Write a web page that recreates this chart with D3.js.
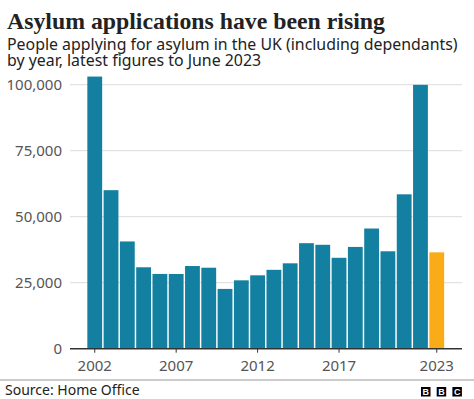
<!DOCTYPE html>
<html>
<head>
<meta charset="utf-8">
<script src="https://cdn.jsdelivr.net/npm/d3@7"></script>
<style>
  html, body { margin: 0; padding: 0; background: #fff; }
  svg { display: block; }
</style>
</head>
<body>
<svg id="chart" width="474" height="399"></svg>
<script>
const years = ["2002","2003","2004","2005","2006","2007","2008","2009","2010","2011","2012",
               "2013","2014","2015","2016","2017","2018","2019","2020","2021","2022","2023"];
const applications = [103081, 60050, 40625, 30840, 28320, 28300, 31315, 30675, 22644, 25898, 27800,
                      29875, 32344, 39968, 39357, 34435, 38550, 45525, 36900, 58480, 99939, 36500];
const highlightYear = "2023";
const yTicks = [0, 25000, 50000, 75000, 100000];
const xTickLabels = ["2002", "2007", "2012", "2017", "2023"];

const title = "Asylum applications have been rising";
const subtitleLines = ["People applying for asylum in the UK (including dependants)",
                       "by year, latest figures to June 2023"];
const source = "Source: Home Office";

const svg = d3.select("#chart");
const W = 474, H = 399;
const sans = "'Noto Sans', 'Open Sans', sans-serif";

function fitText(sel, targetWidth) {
  const node = sel.node();
  const fs = parseFloat(sel.attr("font-size"));
  const w = node.getComputedTextLength();
  sel.attr("font-size", (fs * targetWidth / w).toFixed(2));
}

// Title
const t = svg.append("text").attr("x", 7).attr("y", 28.5)
  .attr("font-family", "'Liberation Serif', 'DejaVu Serif', serif")
  .attr("font-weight", "bold").attr("font-size", 21).attr("fill", "#222")
  .text(title);
fitText(t, 378);

// Subtitle
const s1 = svg.append("text").attr("x", 7).attr("y", 49.5)
  .attr("font-family", sans).attr("font-size", 17).attr("fill", "#222")
  .text(subtitleLines[0]);
fitText(s1, 451);
const sfs = s1.attr("font-size");
svg.append("text").attr("x", 7).attr("y", 65.5)
  .attr("font-family", sans).attr("font-size", sfs).attr("fill", "#222")
  .text(subtitleLines[1]);

// Scales
const x = d3.scaleBand().domain(years).range([86.6, 444.9]).paddingInner(0.09).paddingOuter(0.045);
const y = d3.scaleLinear().domain([0, 100000]).range([348.7, 84.7]);

// Gridlines
svg.append("g").selectAll("line").data(yTicks.filter(d => d > 0)).join("line")
  .attr("x1", 70).attr("x2", 462)
  .attr("y1", d => y(d)).attr("y2", d => y(d))
  .attr("stroke", "#dcdcdc").attr("stroke-width", 1);

// Y axis labels
const yAxis = d3.axisLeft(y).tickValues(yTicks).tickSize(0).tickPadding(0)
  .tickFormat(d3.format(","));
const gy = svg.append("g").attr("transform", "translate(62,0)").call(yAxis);
gy.select(".domain").remove();
gy.selectAll("text").attr("font-family", sans).attr("font-size", 15).attr("fill", "#555");

// Bars
svg.append("g").selectAll("rect").data(years).join("rect")
  .attr("x", d => x(d))
  .attr("width", x.bandwidth())
  .attr("y", (d, i) => y(applications[i]))
  .attr("height", (d, i) => y(0) - y(applications[i]))
  .attr("fill", d => d === highlightYear ? "#FAAB18" : "#1380A1");

// X axis
const xAxis = d3.axisBottom(x).tickValues(xTickLabels).tickSize(4).tickPadding(8).tickSizeOuter(0);
const gx = svg.append("g").attr("transform", `translate(0,${y(0)})`).call(xAxis);
gx.select(".domain").remove();
gx.selectAll(".tick line").attr("stroke", "#333");
gx.selectAll("text").attr("font-family", sans).attr("font-size", 15).attr("fill", "#555");
svg.append("line").attr("x1", 70).attr("x2", 462).attr("y1", y(0)).attr("y2", y(0))
  .attr("stroke", "#333").attr("stroke-width", 1.5);

// Footer
svg.append("line").attr("x1", 0).attr("x2", W).attr("y1", 380).attr("y2", 380)
  .attr("stroke", "#999").attr("stroke-width", 1);
svg.append("text").attr("x", 5).attr("y", 395)
  .attr("font-family", sans).attr("font-size", 14).attr("fill", "#222")
  .text(source);

// BBC blocks
const logo = svg.append("g");
["B", "B", "C"].forEach((ch, i) => {
  const bx = 421 + i * 15.7;
  logo.append("rect").attr("x", bx).attr("y", 387).attr("width", 9.5).attr("height", 9.5).attr("fill", "#000");
  logo.append("text").attr("x", bx + 4.75).attr("y", 395).attr("text-anchor", "middle")
    .attr("font-family", "'Liberation Sans', Arial, sans-serif").attr("font-weight", "bold")
    .attr("font-size", 9).attr("fill", "#fff").text(ch);
});
</script>
</body>
</html>
